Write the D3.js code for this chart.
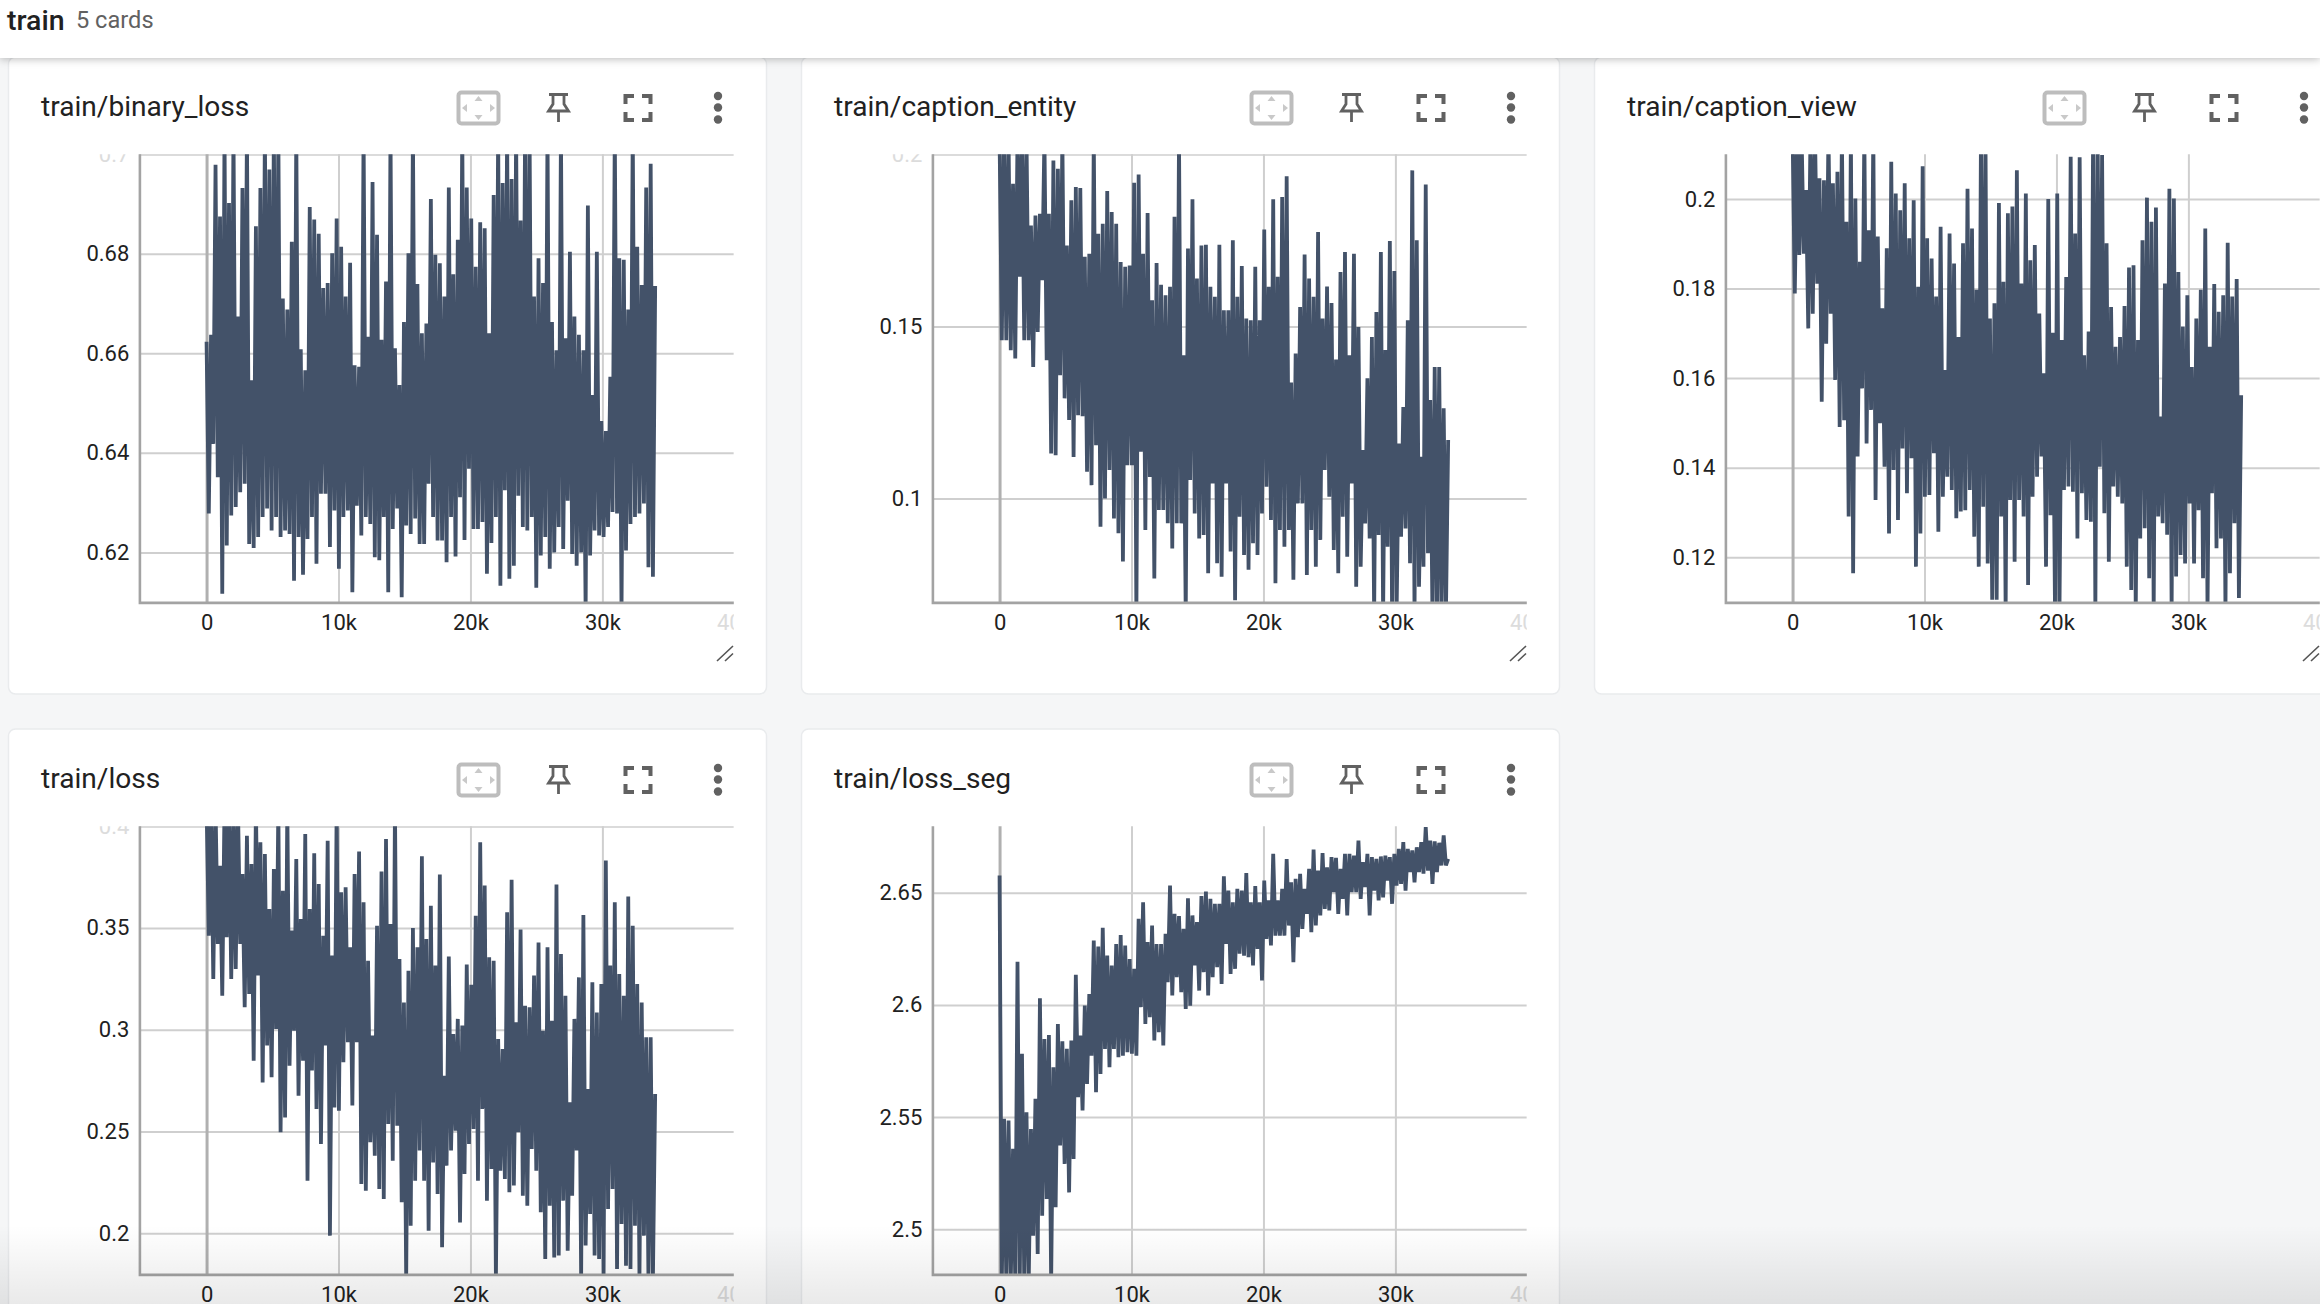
<!DOCTYPE html>
<html>
<head>
<meta charset="utf-8">
<script src="https://cdn.jsdelivr.net/npm/d3@7"></script>
<style>
  html, body { margin: 0; padding: 0; background: #f5f6f7; overflow: hidden; }
  svg { display: block; font-family: Roboto, sans-serif; }
</style>
</head>
<body>
<svg id="board" width="2320" height="1304"></svg>
<script>
// training steps shared by all five scalars
const steps = [0,170,340,510,680,850,1020,1190,1360,1530,1700,1870,2040,2210,2380,2550,2720,2890,3060,3230,
  3400,3570,3740,3910,4080,4250,4420,4590,4760,4930,5100,5270,5440,5610,5780,5950,6120,6290,6460,6630,
  6800,6970,7140,7310,7480,7650,7820,7990,8160,8330,8500,8670,8840,9010,9180,9350,9520,9690,9860,10030,
  10200,10370,10540,10710,10880,11050,11220,11390,11560,11730,11900,12070,12240,12410,12580,12750,12920,13090,13260,13430,
  13600,13770,13940,14110,14280,14450,14620,14790,14960,15130,15300,15470,15640,15810,15980,16150,16320,16490,16660,16830,
  17000,17170,17340,17510,17680,17850,18020,18190,18360,18530,18700,18870,19040,19210,19380,19550,19720,19890,20060,20230,
  20400,20570,20740,20910,21080,21250,21420,21590,21760,21930,22100,22270,22440,22610,22780,22950,23120,23290,23460,23630,
  23800,23970,24140,24310,24480,24650,24820,24990,25160,25330,25500,25670,25840,26010,26180,26350,26520,26690,26860,27030,
  27200,27370,27540,27710,27880,28050,28220,28390,28560,28730,28900,29070,29240,29410,29580,29750,29920,30090,30260,30430,
  30600,30770,30940,31110,31280,31450,31620,31790,31960,32130,32300,32470,32640,32810,32980,33150,33320,33490,33660,33830,34000];

const binaryHigh = [.6623,.6637,.6979,.6875,.705,.6902,.705,.6674,.6932,.705,.6546,.6855,.6932,.705,.6969,.705,.705,.6710,.6688,.6824,
  .705,.6608,.6566,.6894,.6869,.6840,.6731,.6741,.6801,.6871,.6814,.6714,.6782,.6576,.6573,.705,.6633,.6944,.6838,.6627,
  .6744,.705,.6610,.6536,.6663,.6801,.705,.6739,.6640,.6660,.6910,.6798,.6781,.6714,.6933,.6759,.6828,.705,.6933,.6871,
  .6774,.6863,.6851,.6640,.6918,.705,.6942,.705,.6950,.705,.6867,.705,.705,.6714,.6791,.6741,.705,.6663,.6606,.705,
  .6630,.6804,.6674,.6637,.6606,.6897,.6516,.6804,.6464,.6444,.6553,.705,.6791,.6788,.6688,.705,.6814,.6737,.6933,.6981,.6735];
const binaryLow = [.6278,.6418,.6351,.6117,.6214,.6274,.6291,.6321,.6338,.6217,.6209,.6231,.6271,.6288,.6244,.6271,.6231,.6244,.6237,.6143,
  .6231,.6155,.6227,.6271,.6177,.6318,.6318,.6211,.6284,.6167,.6271,.6284,.6120,.6294,.6234,.6271,.6257,.6190,.6184,.6271,
  .6120,.6247,.6288,.6110,.6254,.6237,.6268,.6217,.6217,.6338,.6271,.6224,.6224,.6180,.6271,.6192,.6311,.6225,.6368,.6247,
  .6247,.6261,.6157,.6219,.6271,.6133,.6325,.6147,.6173,.6314,.6251,.6244,.6271,.6129,.6194,.6231,.6167,.6200,.6251,.6207,
  .6304,.6197,.6173,.6200,.608,.6194,.6244,.6234,.6231,.6251,.6281,.6278,.608,.6204,.6257,.6271,.6278,.6298,.6170,.6151];

const entityHigh = [.205,.205,.205,.1914,.205,.205,.205,.1793,.1822,.1827,.205,.1827,.1982,.1958,.205,.1735,.1866,.1905,.1902,.1702,
  .1711,.205,.1769,.1798,.1893,.1832,.1798,.1687,.1673,.1677,.1917,.1941,.1711,.1829,.1576,.1684,.1621,.1590,.1615,.1818,
  .205,.1416,.1726,.1869,.1639,.1735,.1737,.1615,.1586,.1737,.1547,.1547,.1750,.1586,.1675,.1523,.1518,.1673,.1518,.1781,
  .1615,.1869,.1644,.1876,.1936,.1337,.1421,.1556,.1709,.1639,.1586,.1774,.1523,.1616,.1568,.1404,.1658,.1716,.1416,.1711,
  .1498,.1141,.1349,.1469,.1542,.1716,.1431,.1748,.1661,.1160,.1266,.1518,.1953,.1750,.1121,.1912,.1286,.1382,.1382,.1262,.1170];
const entityLow = [.1460,.1460,.1431,.1407,.1644,.1460,.1460,.1382,.1484,.1634,.1402,.1131,.1126,.1358,.1291,.1228,.1121,.1242,.1239,.1078,
  .1039,.1155,.0918,.1000,.1083,.0942,.0899,.0817,.1097,.1097,.066,.1136,.0909,.1063,.0768,.0967,.0967,.0928,.0855,.0928,
  .0928,.066,.1054,.0957,.0884,.0894,.0783,.1044,.0812,.0773,.1044,.0846,.0705,.0947,.0836,.0793,.0870,.0836,.0957,.1034,
  .0938,.0754,.0909,.0860,.0909,.0764,.0986,.0986,.0778,.0909,.0802,.0880,.1083,.1005,.0851,.0783,.0947,.0831,.1044,.0744,
  .0802,.0928,.0884,.066,.0894,.066,.0860,.066,.066,.0889,.0913,.0812,.066,.0744,.0802,.0841,.066,.066,.066,.066];

const viewHigh = [.215,.215,.215,.2020,.215,.215,.2046,.2042,.215,.2035,.2061,.215,.1949,.215,.2001,.1860,.215,.1930,.215,.1916,
  .1756,.1890,.2083,.2012,.1975,.2035,.1912,.1997,.1804,.2073,.1912,.1867,.1782,.1938,.1618,.1923,.1856,.1692,.1901,.2023,
  .1934,.1797,.215,.215,.1733,.1767,.1991,.1815,.1968,.1983,.2064,.1811,.2012,.1863,.1897,.1744,.1611,.2000,.1701,.2012,
  .1685,.1826,.2094,.1923,.2093,.1651,.1704,.215,.215,.2098,.1901,.1759,.1670,.1692,.1761,.1847,.1852,.1685,.1908,.2003,
  .1949,.1981,.1514,.1811,.2023,.2001,.1837,.1715,.1785,.1625,.1733,.1797,.1934,.1670,.1810,.1748,.1785,.1902,.1782,.1821,.1562];
const viewLow = [.1789,.1875,.1878,.1711,.1744,.1811,.1547,.1677,.1744,.1596,.1491,.1506,.1291,.1164,.1425,.1577,.1454,.1529,.1328,.1499,
  .1402,.1253,.1395,.1283,.1443,.1343,.1421,.1179,.1253,.1335,.1339,.1432,.1257,.1335,.1380,.1350,.1287,.1302,.1305,.1350,
  .1246,.1179,.1313,.1186,.1105,.1105,.1291,.108,.1328,.1190,.1328,.1291,.1138,.1335,.1380,.1425,.1179,.1294,.108,.108,
  .1350,.1358,.1346,.1242,.1343,.1283,.1279,.108,.1402,.1298,.1190,.1358,.1335,.1320,.1179,.1127,.108,.1242,.1265,.1153,
  .108,.1291,.1276,.1250,.108,.1157,.1205,.1186,.1320,.1186,.1305,.1153,.108,.1343,.1220,.1242,.108,.1164,.1276,.1109];

const lossHigh = [.41,.41,.41,.3806,.41,.41,.41,.41,.3765,.3953,.3814,.41,.3921,.3863,.3593,.3790,.41,.3683,.41,.3487,
  .3839,.3544,.3962,.3593,.3867,.3716,.3462,.3929,.3364,.41,.3675,.3700,.3405,.3765,.3875,.3626,.3339,.2971,.3511,.3777,
  .3937,.3519,.41,.3347,.3134,.3290,.35,.3405,.3852,.3446,.3609,.3315,.3762,.2774,.3359,.2979,.3053,.3020,.3320,.3221,
  .3560,.3921,.3708,.3356,.3339,.2954,.2905,.3577,.3737,.3036,.3492,.3118,.3110,.3266,.3429,.2995,.3405,.3044,.3713,.3372,
  .3167,.2643,.3053,.3257,.3564,.2709,.3233,.3085,.3225,.3831,.3315,.3626,.3274,.3167,.3655,.3511,.3225,.3134,.2963,.2963,.2684];
const lossLow = [.3462,.3249,.3421,.3167,.3454,.3249,.3298,.3421,.3110,.3175,.2848,.3266,.2741,.2922,.2766,.3003,.2496,.2569,.2823,.2995,
  .2676,.2848,.2258,.2799,.2610,.2438,.2922,.1988,.2618,.2602,.2840,.2938,.2627,.2938,.2242,.2209,.2447,.2381,.2217,.2168,
  .2537,.2356,.2528,.2152,.178,.2037,.2258,.2406,.2258,.2012,.2348,.2193,.1931,.2332,.2406,.2504,.2053,.2291,.2438,.2512,
  .2258,.2610,.2160,.2315,.178,.2307,.2266,.2201,.2234,.2496,.2184,.2135,.2414,.2307,.2103,.1873,.2135,.1881,.1890,.2160,
  .1914,.2184,.2406,.178,.1939,.2094,.1890,.1873,.178,.2119,.2217,.1824,.2045,.1840,.1824,.2037,.178,.1988,.178,.178];

const segHigh = [2.6577,2.5492,2.5484,2.5358,2.6193,2.5782,2.5521,2.5447,2.5581,2.6030,2.5848,2.5866,2.5722,2.5915,2.5838,2.5804,2.5841,2.6134,2.5863,2.5997,
  2.6049,2.6287,2.6260,2.6344,2.6220,2.6176,2.6272,2.6312,2.6265,2.6205,2.6161,2.6384,2.6458,2.6280,2.6354,2.6272,2.6272,2.6317,2.6532,2.6406,
  2.6396,2.6339,2.6476,2.6399,2.6369,2.6485,2.6506,2.6473,2.6451,2.6451,2.6574,2.6510,2.6458,2.6518,2.6510,2.6588,2.6458,2.6530,2.6458,2.6555,
  2.6466,2.6674,2.6466,2.6518,2.6651,2.6547,2.6562,2.6585,2.6518,2.6607,2.6693,2.6599,2.6677,2.6614,2.6659,2.6656,2.6607,2.6674,2.6674,2.6666,
  2.6733,2.6637,2.6674,2.6659,2.6651,2.6662,2.6666,2.6659,2.6674,2.6696,2.6726,2.6696,2.6689,2.6703,2.6726,2.6793,2.6733,2.6729,2.6723,2.6756,2.6651];
const segLow = [2.477,2.477,2.477,2.477,2.477,2.477,2.477,2.4971,2.4889,2.5060,2.5135,2.477,2.5098,2.5373,2.5291,2.5164,2.5313,2.5588,2.5529,2.5648,
  2.5774,2.5611,2.5692,2.5804,2.5722,2.5804,2.5767,2.5774,2.5789,2.5782,2.5774,2.5990,2.5915,2.5945,2.5841,2.5878,2.5819,2.6101,2.6042,2.6124,
  2.6057,2.5982,2.5997,2.6176,2.6064,2.6146,2.6042,2.6124,2.6168,2.6094,2.6272,2.6138,2.6161,2.6228,2.6220,2.6213,2.6176,2.6250,2.6109,2.6295,
  2.6265,2.6309,2.6309,2.6309,2.6354,2.6190,2.6302,2.6339,2.6406,2.6324,2.6354,2.6399,2.6428,2.6421,2.6503,2.6406,2.6473,2.6399,2.6503,2.6503,
  2.6473,2.6525,2.6399,2.6510,2.6466,2.6480,2.6555,2.6451,2.6532,2.6540,2.6510,2.6592,2.6547,2.6592,2.6585,2.6599,2.6540,2.6592,2.6622,2.6622];

const cardTitles = ["train/binary_loss", "train/caption_entity", "train/caption_view", "train/loss", "train/loss_seg"];
const highs = [binaryHigh, entityHigh, viewHigh, lossHigh, segHigh];
const lows = [binaryLow, entityLow, viewLow, lossLow, segLow];
const yDomains = [[.60985, .70], [.0697, .20], [.1098, .21], [.1795, .40], [2.4796, 2.6797]];
const yTicks = [[.62, .64, .66, .68, .7], [.1, .15, .2], [.12, .14, .16, .18, .2], [.2, .25, .3, .35, .4], [2.5, 2.55, 2.6, 2.65]];
const xTicks = [0, 10000, 20000, 30000, 40000];
const xTickLabels = ["0", "10k", "20k", "30k", "40k"];

const lineColor = "#435269";
const colShift = 793, rowShift = 672;
const plotW = 594.5, plotH = 448.7;

const svg = d3.select("#board");

const x = d3.scaleLinear().domain([-5098, 39960]).range([0, plotW]);

const defs = svg.append("defs");
const fade = defs.append("linearGradient").attr("id", "fade").attr("x1", 0).attr("y1", 0).attr("x2", 0).attr("y2", 1);
fade.append("stop").attr("offset", 0).attr("stop-color", "#000").attr("stop-opacity", 0);
fade.append("stop").attr("offset", 1).attr("stop-color", "#000").attr("stop-opacity", 0.085);
defs.append("clipPath").attr("id", "plot-clip").append("rect").attr("width", plotW).attr("height", plotH);
defs.append("clipPath").attr("id", "yaxis-clip").append("rect").attr("x", -90).attr("y", 0).attr("width", plotW + 90).attr("height", plotH + 2);
defs.append("clipPath").attr("id", "xaxis-clip").append("rect").attr("x", -90).attr("y", -plotH - 2).attr("width", plotW + 90).attr("height", plotH + 60);

const line = d3.line().x(d => x(d[0])).y(d => d[1]);

function drawIcons(g) {
  // fit domain button
  g.append("rect").attr("x", 458.5).attr("y", 92.5).attr("width", 40).attr("height", 31).attr("rx", 3)
    .attr("fill", "#fff").attr("stroke", "#bdbdbd").attr("stroke-width", 4);
  g.append("path").attr("fill", "#c9c9c9")
    .attr("d", "M478.5,96l4,5h-8z M478.5,120l4,-5h-8z M462,108l5,-4v8z M495,108l-5,-4v8z");
  // pin
  g.append("path").attr("fill", "none").attr("stroke", "#616161").attr("stroke-width", 2.8)
    .attr("d", "M549,94.5H568 M553,94.5V104L548.5,111H568.5L564,104V94.5 M558.5,111V122");
  // fullscreen
  g.append("path").attr("fill", "none").attr("stroke", "#616161").attr("stroke-width", 4)
    .attr("d", "M625.5,104V96H634 M642,96H650.5V104 M625.5,112V120H634 M642,120H650.5V112");
  // menu dots
  g.selectAll("circle.dot").data([96, 107.5, 119.5]).enter().append("circle").attr("class", "dot")
    .attr("cx", 718).attr("cy", d => d).attr("r", 4.2).attr("fill", "#616161");
}

cardTitles.forEach((title, i) => {
  const col = i % 3, row = Math.floor(i / 3);
  const card = svg.append("g").attr("transform", `translate(${col * colShift},${row * rowShift})`);

  card.append("rect").attr("x", 8.5).attr("y", 57).attr("width", 758).attr("height", row === 0 ? 637 : 700)
    .attr("rx", 7).attr("fill", "#fff").attr("stroke", "#e9ebed").attr("stroke-width", 1.5);

  card.append("text").attr("x", 41).attr("y", 106.5).attr("dy", "0.35em")
    .attr("font-size", 28.1).attr("fill", "#212121").text(title);
  drawIcons(card);

  const plot = card.append("g").attr("transform", "translate(139.3,154.2)");
  const y = d3.scaleLinear().domain(yDomains[i]).range([plotH, 0]);

  const yAxis = plot.append("g").attr("clip-path", "url(#yaxis-clip)")
    .call(d3.axisLeft(y).tickValues(yTicks[i]).tickFormat(d => d3.format("~g")(d)).tickSize(-plotW).tickSizeOuter(0).tickPadding(10));
  yAxis.selectAll(".tick line").attr("stroke", "#cfcfcf").attr("stroke-width", 2);
  yAxis.selectAll(".tick text").attr("font-size", 22).attr("font-family", "Roboto, sans-serif")
    .attr("fill", d => y(d) < 12 ? "#dcdcdc" : "#212121");
  yAxis.select(".domain").remove();

  const xAxis = plot.append("g").attr("transform", `translate(0,${plotH})`).attr("clip-path", "url(#xaxis-clip)")
    .call(d3.axisBottom(x).tickValues(xTicks).tickFormat((d, k) => xTickLabels[k]).tickSize(-plotH).tickSizeOuter(0).tickPadding(11));
  xAxis.selectAll(".tick line").attr("stroke", d => d === 0 ? "#b0b0b0" : "#cfcfcf").attr("stroke-width", d => d === 0 ? 3 : 2)
    .attr("opacity", d => d === 40000 ? 0 : 1);
  xAxis.selectAll(".tick text").attr("font-size", 22).attr("font-family", "Roboto, sans-serif")
    .attr("fill", d => d === 40000 ? "#dcdcdc" : "#212121");
  xAxis.select(".domain").remove();

  // the logged values swing between peak and trough, so the path zigzags through both arrays
  const values = d3.merge(highs[i].map((h, k) => k < lows[i].length ? [h, lows[i][k]] : [h]));
  const points = values.map((v, k) => [steps[k], y(v)]);
  plot.append("path").datum(points).attr("clip-path", "url(#plot-clip)")
    .attr("d", line).attr("fill", "none").attr("stroke", lineColor)
    .attr("stroke-width", 3.8).attr("stroke-linejoin", "bevel");

  // axis rails on top of the line
  plot.append("path").attr("d", `M0.6,0V${plotH}H${plotW}`).attr("fill", "none").attr("stroke", "#a3a3a3").attr("stroke-width", 2.6);

  if (row === 0) {
    card.append("path").attr("fill", "none").attr("stroke", "#555").attr("stroke-width", 1.6)
      .attr("d", "M717,661L733,646 M725,661L733,653.5");
  }
});

// page header with its soft shadow
const header = svg.append("g");
header.append("rect").attr("width", 2320).attr("height", 58).attr("fill", "#fff")
  .style("filter", "drop-shadow(0 1px 4px rgba(0,0,0,0.28))");
header.append("text").attr("x", 7).attr("y", 20).attr("dy", "0.35em").attr("font-size", 28.5).attr("font-weight", 500).attr("fill", "#212121").text("train");
header.append("text").attr("x", 76).attr("y", 20).attr("dy", "0.35em").attr("font-size", 23.6).attr("fill", "#616161").text("5 cards");

// the screenshot fades towards the bottom edge
svg.append("rect").attr("y", 1225).attr("width", 2320).attr("height", 79).attr("fill", "url(#fade)");
</script>
</body>
</html>
